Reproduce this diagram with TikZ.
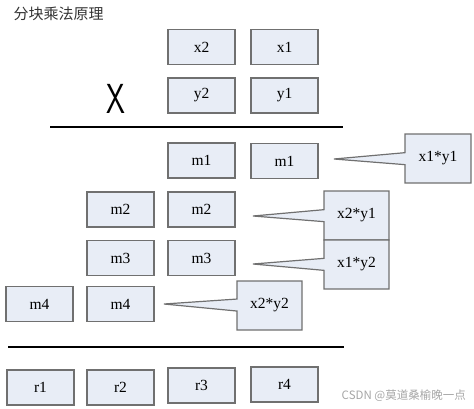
\documentclass[tikz,border=0pt]{standalone}
\usepackage{fontspec}
\setmainfont{Liberation Serif}
\newfontfamily\cjk{Noto Sans CJK SC}
\usetikzlibrary{shapes.callouts}
\definecolor{boxfill}{HTML}{E8EDF6}
\definecolor{boxline}{HTML}{707070}
\tikzset{
  cell/.style={draw=boxline, fill=boxfill, line width=1.2pt, minimum width=67pt, minimum height=35pt, inner sep=0pt, font=\fontsize{15.5}{16}\selectfont},
  note/.style={draw=boxline, fill=boxfill, line width=1.2pt, rectangle callout, minimum width=65pt, minimum height=49pt, inner sep=0pt, callout pointer width=12pt, font=\fontsize{15.5}{16}\selectfont},
  rule/.style={line width=2.6pt, black}
}
\begin{document}
\begin{tikzpicture}[x=1pt,y=-1pt]
\useasboundingbox (0,0) rectangle (474,408);
\node[anchor=west, font=\cjk\fontsize{15}{16}\selectfont, text=black!80] (title) at (10,14) {分块乘法原理};
% operands
\node[cell] (x2) at (201.5,47) {x2};
\node[cell] (x1) at (284.5,47) {x1};
\node[cell] (y2) at (201.5,95.5) {y2};
\node[cell] (y1) at (284.5,95.5) {y1};
\node[font=\sffamily\fontsize{42}{42}\selectfont, inner sep=0pt] (times) at (115.5,98.5) {\scalebox{0.72}[1]{X}};
% first rule
\coordinate (l1a) at (50,127);
\coordinate (l1b) at (343,127);
\draw[rule] (l1a) -- (l1b);
% partial products
\node[cell] (m1a) at (201.5,160.5) {m1};
\node[cell] (m1b) at (284.5,161) {m1};
\node[cell] (m2a) at (120.5,209.5) {m2};
\node[cell] (m2b) at (201.5,209.5) {m2};
\node[cell] (m3a) at (120.5,258) {m3};
\node[cell] (m3b) at (201.5,258) {m3};
\node[cell] (m4a) at (39.5,304) {m4};
\node[cell] (m4b) at (120.5,304) {m4};
% callouts
\coordinate (t1) at (334,159);
\coordinate (t2) at (253,216);
\coordinate (t3) at (253,264);
\coordinate (t4) at (164,304);
\node[note, minimum width=66pt, callout absolute pointer={(t1)}] (c1) at (438,158.5) {x1*y1};
\node[note, callout absolute pointer={(t2)}] (c2) at (356.5,215.5) {x2*y1};
\node[note, callout absolute pointer={(t3)}] (c3) at (356.5,264.5) {x1*y2};
\node[note, callout absolute pointer={(t4)}] (c4) at (269.5,305.5) {x2*y2};
% second rule
\coordinate (l2a) at (8,347);
\coordinate (l2b) at (344,347);
\draw[rule] (l2a) -- (l2b);
% result
\node[cell] (r1) at (40.5,387.5) {r1};
\node[cell] (r2) at (120.5,387.5) {r2};
\node[cell] (r3) at (201.5,385.5) {r3};
\node[cell] (r4) at (284.5,384.5) {r4};
% watermark
\node[anchor=east, font=\cjk\fontsize{11.5}{12}\selectfont, text=black!35, inner sep=0pt] (wm) at (466,396) {CSDN @莫道桑榆晚一点};
\end{tikzpicture}
\end{document}
